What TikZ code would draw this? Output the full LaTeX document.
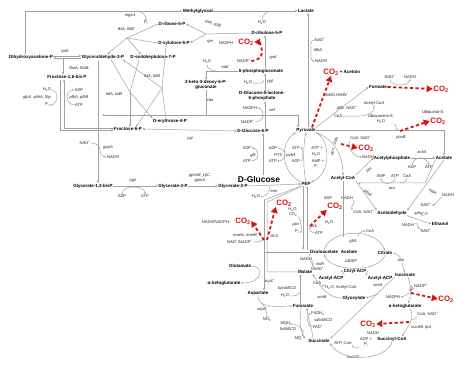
\documentclass[tikz,border=0pt]{standalone}
\usepackage{fontspec}
\setmainfont{Liberation Sans}
\usetikzlibrary{arrows.meta}
\definecolor{linegray}{RGB}{160,160,160}
\definecolor{fluxred}{RGB}{214,20,20}
\newcommand{\HtwoO}{H\textsubscript{2}O}
\newcommand{\Pii}{P\textsubscript{i}}
\newcommand{\COtwo}{CO\textsubscript{2}}
\newcommand{\NADp}{NAD\textsuperscript{+}}
\newcommand{\NADPp}{NADP\textsuperscript{+}}
\newcommand{\FADHtwo}{FADH\textsubscript{2}}
\begin{document}
\begin{tikzpicture}[x=1pt,y=-1pt,
 met/.style={font=\fontsize{4.5}{5}\selectfont\bfseries,inner sep=0.4pt},
 bigmet/.style={font=\fontsize{8.4}{9}\selectfont\bfseries,inner sep=0.4pt},
 enz/.style={font=\fontsize{4.1}{4.6}\selectfont\itshape,inner sep=0.3pt,text=black!85},
 cof/.style={font=\fontsize{4.1}{4.6}\selectfont,inner sep=0.3pt,text=black!85},
 cotwo/.style={font=\fontsize{7.8}{8}\selectfont\bfseries,text=fluxred,inner sep=0.4pt},
 ln/.style={draw=linegray,line width=0.5pt},
 arr/.style={ln,-{Stealth[length=2.6pt,width=2.2pt]}},
 arrr/.style={ln,{Stealth[length=2.6pt,width=2.2pt]}-{Stealth[length=2.6pt,width=2.2pt]}},
 carr/.style={ln,-{Stealth[length=2pt,width=1.8pt]}},
 rflux/.style={draw=fluxred,line width=1.8pt,dash pattern=on 3.2pt off 2.4pt,-{Triangle[length=6pt,width=6.5pt]}}
]
\fill[white] (0,0) rectangle (474,366);
\useasboundingbox (0,0) rectangle (474,366);

% ---------- metabolites ----------
\node[met] (mg) at (198,11) {Methylglyoxal};
\node[met] (lac) at (306,11) {Lactate};
\node[met] (dhap) at (31,57) {Dihydroxyacetone-P};
\node[met] (g3p) at (103,57) {Glyceraldehyde-3-P};
\node[met] (s7p) at (153,57) {D-sedoheptulose-7-P};
\node[met] (fbp) at (67,77) {Fructose-1,6-bis P};
\node[met] (f6p) at (128,129) {Fructose-6-P};
\node[met] (e4p) at (170,121) {D-erythrose-4-P};
\node[met] (r5p) at (172,24) {D-ribose-5-P};
\node[met] (ru5p) at (267,33) {D-ribulose-5-P};
\node[met] (x5p) at (174,43) {D-xylulose-5-P};
\node[met] (pg6) at (261,71) {6-phosphogluconate};
\node[met,align=center] (kdpg) at (206,85) {2-keto-3-deoxy-6-P-\\gluconate};
\node[met,align=center] (gl6p) at (262,96) {D-Glucono-δ-lactone-\\6-phosphate};
\node[met] (g6p) at (253,131) {D-Glucose-6-P};
\node[bigmet] (glc) at (259,179) {D-Glucose};
\node[met] (bpg) at (93,186) {Glycerate-1,3-bisP};
\node[met] (g3pa) at (173,186) {Glycerate-3-P};
\node[met] (g2p) at (233,186) {Glycerate-2-P};
\node[met] (pep) at (306,184) {PEP};
\node[met] (pyr) at (306,130) {Pyruvate};
\node[met] (acetoin) at (350,72) {+ Acetoin};
\node[met] (form) at (378,87) {Formate};
\node[met] (accoa) at (343,178) {Acetyl-CoA};
\node[met] (acp) at (392,158) {Acetylphosphate};
\node[met] (ac) at (444,158) {Acetate};
\node[met] (ald) at (392,213) {Acetaldehyde};
\node[met] (eth) at (440,224) {Ethanol};
\node[met] (oaa) at (324,252) {Oxaloacetate};
\node[met] (ac2) at (349,252) {Acetate};
\node[met] (cit) at (385,253) {Citrate};
\node[met] (citacp) at (355,271) {Citryl-ACP};
\node[met] (aacpa) at (331,278) {Acetyl-ACP};
\node[met] (aacpb) at (380,278) {Acetyl-ACP};
\node[met] (icit) at (405,275) {Isocitrate};
\node[met] (mal) at (305,272) {Malate};
\node[met] (glx) at (354,298) {Glyoxylate};
\node[met] (akg) at (405,306) {α-ketoglutarate};
\node[met] (scoa) at (392,339) {Succinyl-CoA};
\node[met] (suc) at (319,341) {Succinate};
\node[met] (fum) at (303,306) {Fumarate};
\node[met] (glu) at (240,266) {Glutamate};
\node[met] (akgb) at (224,283) {α-ketoglutarate};
\node[met] (asp) at (258,293) {Aspartate};

% ---------- CO2 ----------
\node[cotwo] (co2ac) at (331,72) {\COtwo};
\node[cotwo] (co2f) at (441,89) {\COtwo};
\node[cotwo] (co2u) at (438,121) {\COtwo};
\node[cotwo] (co2p) at (366,148) {\COtwo};
\node[cotwo] (co2g) at (246,42) {\COtwo};
\node[cotwo] (co2k) at (335,206) {\COtwo};
\node[cotwo] (co2c) at (284,203) {\COtwo};
\node[cotwo] (co2m) at (243,221) {\COtwo};
\node[cotwo] (co2i) at (446,299) {\COtwo};
\node[cotwo] (co2s) at (368,324) {\COtwo};

% ---------- labels ----------
\node[enz] (mgsa) at (130,16) {mgsA};
\node[cof] (pia) at (146,23) {\Pii};
\node[cof] (h2oa) at (262,23) {\HtwoO};
\node[enz] (tpia) at (65,51) {tpiA};
\node[enz] (fba) at (79,68) {fbaA, fbaB};
\node[cof] (h2ob) at (47,90) {\HtwoO};
\node[enz] (glpx) at (37,97) {glpX, ybhA, fbp};
\node[cof] (pib) at (47,105) {\Pii};
\node[cof] (adpb) at (79,90) {ADP};
\node[enz] (pfk) at (79,97) {pfkA, pfkB};
\node[cof] (atpb) at (79,105) {ATP};
\node[enz] (tkta) at (126,29) {tktA, tktB};
\node[enz,rotate=-20] (rpi) at (213,24) {rpiA, rpiB};
\node[enz] (rpe) at (210,42) {rpe};
\node[cof] (nadphg) at (226,43) {NADPH};
\node[enz] (gnd) at (273,57) {gnd};
\node[cof] (nadpg) at (244,61) {\NADPp};
\node[cof] (h2od) at (207,62) {\HtwoO};
\node[enz] (edd) at (225,67) {edd};
\node[cof] (h2oc) at (248,83) {\HtwoO};
\node[enz] (pgl) at (270,81) {pgl};
\node[enz] (eda) at (210,100) {eda};
\node[cof] (nadphz) at (250,108) {NADPH};
\node[enz] (zwf) at (272,110) {zwf};
\node[cof] (nadpz) at (248,122) {\NADPp};
\node[enz] (tktb) at (152,76) {tktA, tktB};
\node[enz] (tal) at (114,94) {talA, talB};
\node[enz] (pgi) at (190,138) {pgi};
\node[cof] (nadc) at (85,143) {\NADp};
\node[enz] (gapa) at (108,148) {gapA};
\node[cof] (nadhc) at (113,157) {NADH};
\node[enz] (pgk) at (133,180) {pgk};
\node[cof] (adpd) at (122,196) {ADP};
\node[cof] (atpd) at (145,196) {ATP};
\node[enz,align=center] (gpm) at (200,178) {gpmM, ytjC,\\gpmA};
\node[enz] (eno) at (274,191) {eno};
\node[cof] (h2oe) at (256,197) {\HtwoO};
\node[cof] (adpg) at (247,148) {ADP};
\node[enz] (glk) at (253,155) {glk};
\node[cof] (atpg) at (247,161) {ATP};
\node[cof] (adpt) at (273,148) {ADP};
\node[enz] (pts) at (278,155) {PTS};
\node[cof] (atpt) at (273,161) {ATP};
\node[enz] (pyka) at (291,155) {pykA};
\node[cof] (atpy) at (296,148) {ATP};
\node[cof] (adpy) at (296,161) {ADP};
\node[cof] (atpp) at (317,148) {ATP +};
\node[cof] (h2op) at (316,155) {\HtwoO};
\node[cof] (ampp) at (318,161) {AMP +};
\node[cof] (pip) at (316,167) {\Pii};
\node[enz,rotate=75] (pps) at (333,152) {pps};
\node[cof] (nadl) at (320,40) {\NADp};
\node[enz] (ldha) at (318,50) {ldhA};
\node[cof] (nadhl) at (321,61) {NADH};
\node[enz] (ilv) at (336,95) {ilvBG,HIMN};
\node[enz] (pfl) at (347,108) {pflB, \NADp};
\node[cof] (coaf) at (338,116) {CoA};
\node[cof] (acoaf) at (374,103) {Acetyl-CoA};
\node[cof] (nadf) at (390,77) {\NADp};
\node[cof] (nadhf) at (410,77) {NADH};
\node[cof,align=center] (ubq) at (381,119) {Ubiquinone-8,\\\HtwoO};
\node[cof] (ubql) at (433,112) {Ubiquinol-8,};
\node[enz] (poxb) at (401,138) {poxB};
\node[enz,rotate=60] (pdh) at (336,141) {pdh};
\node[cof] (coap) at (361,138) {CoA, \NADp};
\node[cof] (nadhp) at (368,157) {NADH};
\node[enz] (acka) at (422,152) {ackA};
\node[cof] (adpk) at (412,167) {ADP};
\node[cof] (atpk) at (429,167) {ATP};
\node[enz,rotate=40] (pta) at (369,170) {pta};
\node[cof] (amps) at (381,176) {AMP};
\node[cof] (atps) at (395,176) {ATP};
\node[cof] (coas) at (407,176) {CoA};
\node[enz] (acs) at (392,188) {acs};
\node[cof] (nadha) at (347,198) {NADH};
\node[enz,rotate=-35] (adhea) at (368,193) {adhE};
\node[cof] (coana) at (364,212) {CoA, \NADp};
\node[enz,rotate=-35] (alda) at (433,192) {aldA};
\node[cof] (nadhal) at (448,195) {NADH};
\node[cof] (nadal) at (426,205) {\NADp};
\node[enz,rotate=-10] (adheb) at (421,214) {adhE,P};
\node[cof] (nadhe) at (408,225) {NADH};
\node[cof] (nade) at (426,231) {\NADp};
\node[cof] (adpk2) at (328,198) {ADP};
\node[cof,align=center] (h2oco2) at (293,212) {\HtwoO,\\\COtwo};
\node[enz] (ppc) at (296,225) {ppc};
\node[cof] (pippc) at (297,232) {\Pii};
\node[enz] (pck) at (314,226) {pck};
\node[cof] (atpck) at (319,233) {ATP};
\node[cof] (h2og) at (329,223) {\HtwoO};
\node[cof] (coag) at (370,231) {CoA};
\node[enz] (glta) at (353,241) {gltA};
\node[enz] (citdef) at (351,261) {citDEF};
\node[enz] (acn) at (401,260) {acn};
\node[cof] (nadhm) at (306,259) {NADH};
\node[enz] (mdh) at (320,264) {mdh};
\node[cof] (nadm) at (319,269) {\NADp};
\node[cof] (coam) at (317,283) {CoA};
\node[cof] (h2oacc) at (341,288) {\HtwoO, Acetyl-CoA};
\node[enz] (aceb) at (322,297) {aceB};
\node[enz] (acea) at (378,285) {aceA};
\node[cof] (nadpi) at (421,286) {\NADPp};
\node[enz,rotate=70] (icd) at (411,289) {icd};
\node[cof] (nadphi) at (393,297) {NADPH};
\node[cof] (coas2) at (428,314) {CoA, \NADp};
\node[enz] (sucab) at (421,327) {sucAB, lpd};
\node[cof] (nadhs) at (373,333) {NADH};
\node[cof,align=center] (adppi) at (366,342) {ADP +\\\Pii};
\node[cof] (atpcoa) at (343,343) {ATP, CoA};
\node[enz] (succd) at (353,357) {sucCD};
\node[enz] (fumabcd) at (287,288) {fumABCD};
\node[cof] (h2of) at (285,296) {\HtwoO};
\node[cof] (fadh) at (318,314) {\FADHtwo};
\node[enz] (sdh) at (323,320) {sdhABCD};
\node[cof] (fad) at (318,327) {FAD\textsuperscript{+}};
\node[cof] (mqh) at (287,324) {MQH\textsubscript{2},};
\node[enz] (frd) at (288,329) {frdABCD};
\node[cof] (mq) at (298,338) {MQ};
\node[enz] (aspc) at (269,281) {aspC};
\node[enz] (aspa) at (262,310) {aspA};
\node[cof] (nh3) at (267,320) {NH\textsubscript{3}};
\node[cof] (nadhmal) at (216,222) {NADH/NADPH,};
\node[enz] (mae) at (245,235) {maeA, maeB};
\node[enz] (sfca) at (274,236) {sfcA};
\node[cof] (nadmal) at (240,242) {\NADp/\NADPp};

% ---------- coordinates ----------
\coordinate (fbaj) at (63,59);
\coordinate (gapt) at (98,61);
\coordinate (edaj) at (206,115);
\coordinate (rpej) at (206,34);
\coordinate (tktj) at (127,38);
\coordinate (talj) at (130,92);
\coordinate (tktk) at (162,88);
\coordinate (mva) at (264,200);
\coordinate (mvb) at (267,202);
\coordinate (acsj) at (425,183);
\coordinate (acsk) at (358,183);

% ---------- connectors: upper glycolysis ----------
\draw[arr] ([xshift=-6pt]dhap.north) |- (mg.west);
\draw[carr] (137,11) to[out=0,in=90] (pia.north);
\draw[arr] (mg.east) -- (lac.west);
\draw[ln] (h2oa.north) to[out=90,in=180] (272,11);
\draw[arr] ([yshift=1.2pt]dhap.east) -- ([yshift=1.2pt]g3p.west);
\draw[arr] ([yshift=-1.2pt]g3p.west) -- ([yshift=-1.2pt]dhap.east);
\draw[arr] (fbaj) -- (fbaj |- fbp.north);
\draw[arr] ([xshift=-7pt]fbp.south) |- ([yshift=-1.2pt]f6p.west);
\draw[arr] ([yshift=1.2pt]f6p.west) -| ([xshift=-3pt]fbp.south);
\draw[carr] (h2ob.east) to[out=0,in=90] (57,97) to[out=-90,in=0] (pib.east);
\draw[carr] (atpb.west) to[out=180,in=-90] (67,97) to[out=90,in=180] (adpb.west);
\draw[arr] (gapt) -- (gapt |- bpg.north);
\draw[carr] (nadc.east) to[out=0,in=90] (100,150) to[out=-90,in=180] (nadhc.west);
\draw[arr] (bpg.east) -- (g3pa.west);
\draw[carr] (adpd.north) to[out=90,in=180] (133,187) to[out=0,in=90] (atpd.north);
\draw[arr] (g3pa.east) -- (g2p.west);
\draw[arr] (g2p.east) -- (pep.west);
\draw[ln] (h2oe.east) to[out=0,in=-90] (270,186);
\draw[arrr] (f6p.east) -- (g6p.west);

% ---------- pentose phosphate ----------
\draw[arr] ([xshift=12pt]g6p.north) -- ([xshift=12pt]g6p.north |- gl6p.south);
\draw[carr] (nadpz.east) to[out=0,in=-90] (263,115) to[out=90,in=0] (nadphz.east);
\draw[arr] ([xshift=3pt]gl6p.north) -- ([xshift=3pt]gl6p.north |- pg6.south);
\draw[ln] (h2oc.east) to[out=0,in=-90] (264,80);
\draw[arr] ([xshift=4pt]pg6.north) -- ([xshift=4pt]pg6.north |- ru5p.south);
\draw[rflux] (nadpg.east) to[out=0,in=-90] (262,52) to[out=90,in=0] (co2g.east);
\draw[arr] (pg6.west) -| (kdpg.north);
\draw[ln] (h2od.south) to[out=-90,in=180] (216,71);
\draw[ln] (kdpg.south) -- (edaj);
\draw[arr] (edaj) -- (102,115);
\draw[arr] (edaj) -| ([xshift=-8pt]pyr.north);
\draw[ln] (ru5p.west) -- (rpej);
\draw[arr] (rpej) -- (r5p.east);
\draw[arr] (rpej) -- (x5p.east);
\draw[ln] (r5p.west) -- (tktj);
\draw[ln] (x5p.west) -- (tktj);
\draw[arr] (tktj) -- ([xshift=4pt]g3p.north);
\draw[arr] (tktj) -- ([xshift=-12pt]s7p.north);
\draw[ln] ([xshift=8pt]g3p.south) -- (talj);
\draw[ln] ([xshift=-14pt]s7p.south) -- (talj);
\draw[arr] (talj) -- (talj |- f6p.north);
\draw[arr] (talj) -- (e4p.north west);
\draw[ln] ([xshift=-8pt]x5p.south) -- (tktk);
\draw[ln] ([xshift=-4pt]e4p.north) -- (tktk);
\draw[arr] (tktk) -- ([xshift=8pt]f6p.north);
\draw[arr] (tktk) -- ([xshift=20pt]g3p.south);

% ---------- glucose / PEP / pyruvate ----------
\draw[arr] ([xshift=4pt]glc.north) -- ([xshift=4pt]glc.north |- g6p.south);
\draw[carr] (atpg.east) to[out=0,in=-90] (258,155) to[out=90,in=0] (adpg.east);
\draw[arr] (pep.north west) .. controls (280,172) and (280,142) .. (pyr.south west);
\draw[arr] (pep.north) .. controls (303,170) and (303,145) .. (pyr.south);
\draw[carr] (adpt.east) to[out=0,in=90] (285,155) to[out=-90,in=0] (atpt.east);
\draw[carr] (adpy.east) to[out=0,in=-90] (302,155) to[out=90,in=0] (atpy.east);
\draw[arr] (pyr.south east) .. controls (331,140) and (331,175) .. (pep.north east);
\draw[arr] ([xshift=2pt]pyr.north) -- ([xshift=2pt]pyr.north |- lac.south);
\draw[carr] (nadl.west) to[out=180,in=90] (311,50) to[out=-90,in=180] (nadhl.west);
\draw[rflux] ([xshift=6pt]pyr.north) -- (co2ac.south);
\draw[arr] (pyr.north east) -- (form.west);
\draw[carr] (coaf.east) to[out=0,in=-90] (acoaf.south);
\draw[rflux] (form.east) -- (co2f.west);
\draw[carr] (nadf.south) to[out=-80,in=-100] (nadhf.south);
\draw[arr] (pyr.east) -| (ac.north);
\draw[ln] (ubq.south east) to[out=-30,in=180] (398,130);
\draw[rflux] (400,131) -- (co2u.west);
\draw[arr] (pyr.south east) to[out=-20,in=90] (accoa.north);
\draw[rflux] (341,144) -- (co2p.west);
\draw[carr] (coap.south west) to[out=-120,in=180] (nadhp.west);

% ---------- acetate / ethanol ----------
\draw[arr] (accoa.north east) -- (acp.west);
\draw[arr] (acp.east) -- (ac.west);
\draw[carr] (adpk.north) to[out=80,in=180] (420,158) to[out=0,in=100] (atpk.north);
\draw[arr] (ac.south west) -- (acsj) -- (acsk);
\draw[carr] (atps.south) to[out=-90,in=-90,looseness=1.3] (amps.south);
\draw[ln] (coas.south) to[out=-90,in=0] (400,183);
\draw[arr] (accoa.south east) -- (ald.north west);
\draw[carr] (nadha.south east) to[out=-20,in=150] (coana.north west);
\draw[arr] (ac.south) -- (ald.north east);
\draw[carr] (nadhal.south west) to[out=-150,in=0] (nadal.east);
\draw[arr] (ald.south east) -- (eth.west);
\draw[carr] (nadhe.north east) to[out=30,in=150] (nade.north west);

% ---------- anaplerotic ----------
\draw[ln] (pep.south west) -- (mva);
\draw[arr] (mva) -- (mva |- asp.north);
\draw[ln] (mal.west) -| (mvb) -- ([xshift=1pt]pep.south west);
\draw[ln] (mva |- oaa.west) -- (oaa.west);
\draw[ln] (nadmal.east) to[out=0,in=-90] (263,238);
\draw[rflux] (264,240) -- (co2m.east);
\draw[rflux] (267,240) -- (co2c.south west);
\draw[arr] ([xshift=-3pt]pep.south) -- ([xshift=-3pt]pep.south |- oaa.north);
\draw[arr] ([xshift=1pt]pep.south |- oaa.north) -- ([xshift=1pt]pep.south);
\draw[carr] (h2oco2.south east) to[out=-60,in=90] (301,225) to[out=-90,in=0] (pippc.east);
\draw[ln] (atpck.west) to[out=180,in=-90] (309,226);
\draw[rflux] (310,226) -- (co2k.south west);

% ---------- TCA ----------
\draw[arr] (oaa.north) to[out=70,in=110] (cit.north);
\draw[ln] (accoa.south) -- (343,237);
\draw[carr] (358,236) to[out=80,in=180] (coag.west);
\draw[arr] (cit.south) to[out=-110,in=-70,looseness=0.8] (oaa.south);
\draw[carr] (aacpa.north east) to[out=45,in=180] (citacp.west);
\draw[carr] (citacp.east) to[out=0,in=135] (aacpb.north west);
\draw[arr] (cit.east) to[out=0,in=110] (icit.north);
\draw[arr] ([xshift=3pt]icit.south) to[out=-70,in=70] ([xshift=3pt]akg.north);
\draw[ln] (nadpi.south west) to[out=-150,in=30] (409,291);
\draw[carr] (409,293) to[out=-150,in=0] (nadphi.east);
\draw[rflux] (411,293) -- (co2i.west);
\draw[arr] ([xshift=5pt]akg.south) to[out=-60,in=60] ([xshift=10pt]scoa.north);
\draw[ln] (coas2.south west) to[out=-150,in=0] (412,320);
\draw[rflux] (409,322) -- (co2s.east);
\draw[arr] (scoa.south) .. controls (386,362) and (340,362) .. (suc.south east);
\draw[carr] (adppi.south west) to[out=-120,in=-60] (atpcoa.south east);
\draw[arr] (icit.south west) -- (suc.north east);
\draw[arr] (378,294) -- (glx.east);
\draw[arr] (glx.west) .. controls (325,298) and (318,282) .. (mal.south east);
\draw[carr] (h2oacc.north west) to[out=150,in=-30] (coam.south east);
\draw[arr] (oaa.south west) to[out=-120,in=60] (mal.north east);
\draw[carr] (nadhm.south east) to[out=-30,in=180] (nadm.west);
\draw[arr] ([xshift=-3pt]fum.north) -- ([xshift=-3pt]fum.north |- mal.south);
\draw[ln] (h2of.east) to[out=0,in=-90] (299,292);
\draw[arr] ([xshift=-6pt]suc.north) to[out=95,in=-85] ([xshift=4pt]fum.south);
\draw[arr] ([xshift=-2pt]fum.south) to[out=-95,in=120] ([xshift=-14pt]suc.north);
\draw[carr] (fad.west) to[out=180,in=180] (fadh.west);
\draw[carr] (mqh.east) to[out=-10,in=45] (mq.north east);

% ---------- aspartate ----------
\draw[carr] (glu.east) .. controls (264,266) and (264,283) .. (akgb.east);
\draw[arr] (asp.south) to[out=-90,in=180] (fum.west);
\draw[carr] (262,303) to[out=-60,in=90] (nh3.north);
\end{tikzpicture}
\end{document}
